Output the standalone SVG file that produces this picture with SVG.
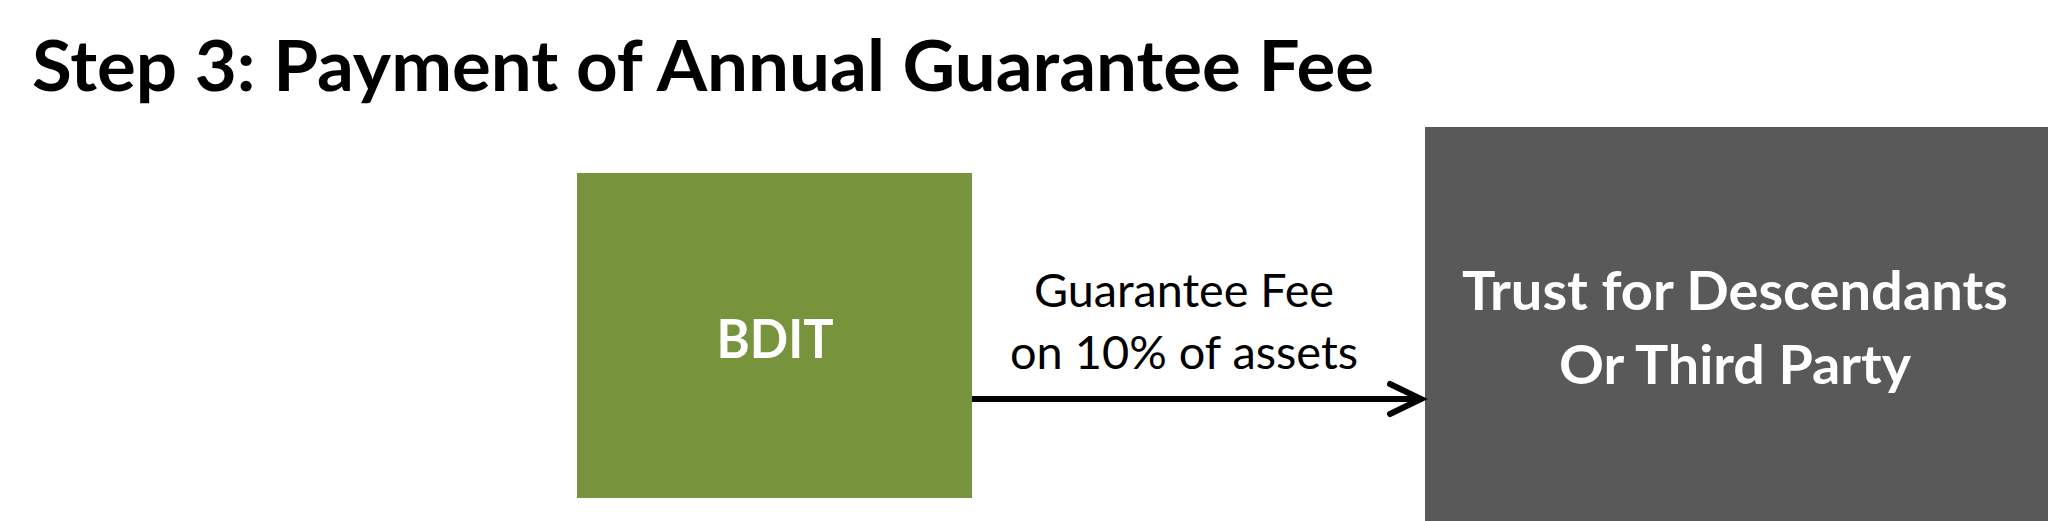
<svg xmlns="http://www.w3.org/2000/svg" width="2048" height="521" viewBox="0 0 2048 521">
  <style>
    .title { font-family: Lato, "Open Sans", "Liberation Sans", sans-serif; font-weight: bold; font-size: 70px; fill: #000000; }
    .nodetext { font-family: Lato, "Open Sans", "Liberation Sans", sans-serif; font-weight: bold; font-size: 54px; fill: #FFFFFF; text-anchor: middle; }
    .label { font-family: Lato, "Open Sans", "Liberation Sans", sans-serif; font-size: 46px; fill: #000000; text-anchor: middle; }
    .conn { stroke: #000000; stroke-width: 6; fill: none; }
  </style>
  <defs>
    <marker id="chevron" markerUnits="userSpaceOnUse" viewBox="-40 -22 46 44" markerWidth="46" markerHeight="44" refX="0" refY="0" orient="auto" overflow="visible">
      <path d="M -31 -15 L 0 0 L -31 15" fill="none" stroke="#000000" stroke-width="6" stroke-linecap="round" stroke-linejoin="miter"/>
    </marker>
  </defs>
  <rect x="0" y="0" width="2048" height="521" fill="#FFFFFF"/>
  <g id="title">
    <text class="title" x="32" y="91" textLength="1342" lengthAdjust="spacingAndGlyphs">Step 3: Payment of Annual Guarantee Fee</text>
  </g>
  <g id="node-bdit">
    <rect x="577" y="173" width="395" height="325" fill="#77933C"/>
    <text class="nodetext" x="775" y="358" textLength="117" lengthAdjust="spacingAndGlyphs">BDIT</text>
  </g>
  <g id="node-trust">
    <rect x="1425" y="127" width="623" height="394" fill="#595959"/>
    <text class="nodetext" x="1735" y="310" textLength="546" lengthAdjust="spacingAndGlyphs">Trust for Descendants</text>
    <text class="nodetext" x="1735" y="384" textLength="352" lengthAdjust="spacingAndGlyphs">Or Third Party</text>
  </g>
  <g id="connectors">
    <line class="conn" x1="972" y1="399" x2="1421" y2="399" marker-end="url(#chevron)"/>
    <text class="label" x="1184" y="307" textLength="300" lengthAdjust="spacingAndGlyphs">Guarantee Fee</text>
    <text class="label" x="1184" y="369" textLength="348" lengthAdjust="spacingAndGlyphs">on 10% of assets</text>
  </g>
</svg>
